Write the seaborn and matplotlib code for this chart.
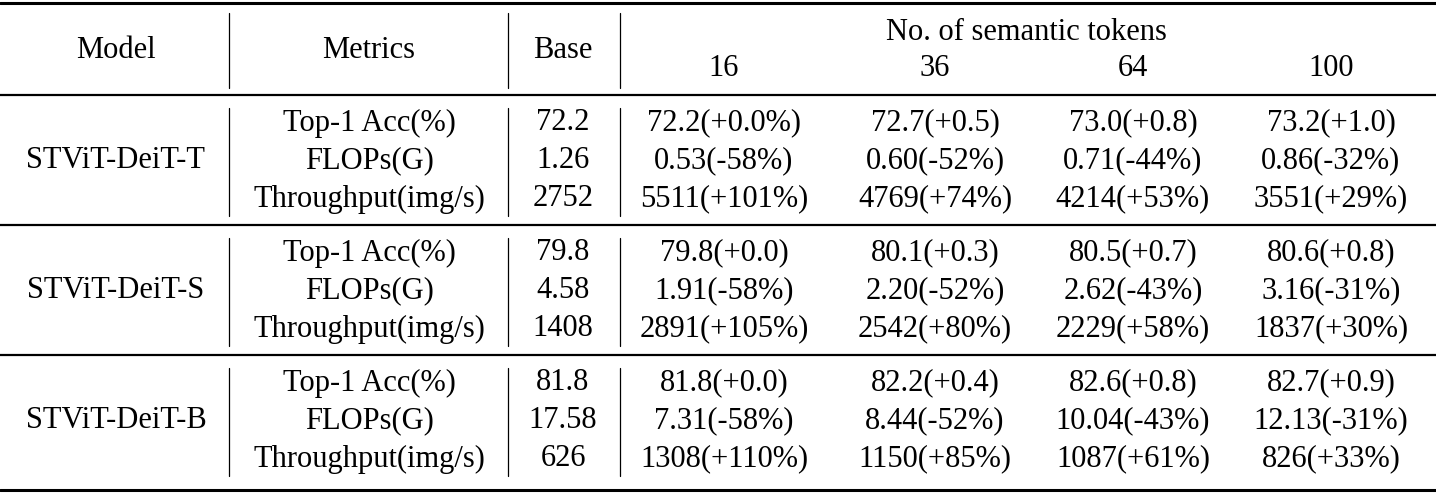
import matplotlib
matplotlib.use("Agg")
import matplotlib.pyplot as plt
import seaborn as sns

sns.set_style("white")
plt.rcParams['font.family'] = ['Liberation Serif', 'DejaVu Serif']
plt.rcParams['text.color'] = 'black'

models = ["STViT-DeiT-T", "STViT-DeiT-S", "STViT-DeiT-B"]
metrics = ["Top-1 Acc(%)", "FLOPs(G)", "Throughput(img/s)"]
token_counts = ["16", "36", "64", "100"]
base_values = [["72.2", "1.26", "2752"],
               ["79.8", "4.58", "1408"],
               ["81.8", "17.58", "626"]]
token_values = [
    [["72.2(+0.0%)", "72.7(+0.5)", "73.0(+0.8)", "73.2(+1.0)"],
     ["0.53(-58%)", "0.60(-52%)", "0.71(-44%)", "0.86(-32%)"],
     ["5511(+101%)", "4769(+74%)", "4214(+53%)", "3551(+29%)"]],
    [["79.8(+0.0)", "80.1(+0.3)", "80.5(+0.7)", "80.6(+0.8)"],
     ["1.91(-58%)", "2.20(-52%)", "2.62(-43%)", "3.16(-31%)"],
     ["2891(+105%)", "2542(+80%)", "2229(+58%)", "1837(+30%)"]],
    [["81.8(+0.0)", "82.2(+0.4)", "82.6(+0.8)", "82.7(+0.9)"],
     ["7.31(-58%)", "8.44(-52%)", "10.04(-43%)", "12.13(-31%)"],
     ["1308(+110%)", "1150(+85%)", "1087(+61%)", "826(+33%)"]],
]

W, H = 1436, 495
fig = plt.figure(figsize=(W / 100, H / 100), dpi=100)
ax = fig.add_axes([0, 0, 1, 1])
ax.set_xlim(0, W)
ax.set_ylim(H, 0)
ax.axis("off")

fs = 22
x_model, x_metric, x_base = 116, 369, 563
x_tokens = [724, 935, 1133, 1331]
vlines = [229, 508, 620]

# header
ax.text(x_model, 50, "Model", ha="center", va="center", fontsize=fs)
ax.text(x_metric, 50, "Metrics", ha="center", va="center", fontsize=fs)
ax.text(x_base, 50, "Base", ha="center", va="center", fontsize=fs)
ax.text(1026, 32, "No. of semantic tokens", ha="center", va="center", fontsize=fs)
for x, t in zip(x_tokens, token_counts):
    ax.text(x, 68, t, ha="center", va="center", fontsize=fs)
for x in vlines:
    ax.plot([x, x], [13, 88], color="black", lw=0.9)

ax.plot([0, W], [3, 3], color="black", lw=2.2)
ax.plot([0, W], [95, 95], color="black", lw=1.6)
ax.plot([0, W], [490, 490], color="black", lw=2.2)

group_top = [108, 238, 368]
for g, model in enumerate(models):
    y0 = group_top[g]
    rows = [y0 + 15 + 38 * i for i in range(3)]
    ax.text(x_model, rows[1], model, ha="center", va="center", fontsize=fs)
    for i, y in enumerate(rows):
        ax.text(x_metric, y, metrics[i], ha="center", va="center", fontsize=fs)
        ax.text(x_base, y, base_values[g][i], ha="center", va="center", fontsize=fs)
        for x, v in zip(x_tokens, token_values[g][i]):
            ax.text(x, y, v, ha="center", va="center", fontsize=fs)
    for x in vlines:
        ax.plot([x, x], [y0, y0 + 108], color="black", lw=0.9)
    if g < 2:
        ax.plot([0, W], [y0 + 117, y0 + 117], color="black", lw=1.6)

fig.savefig("out.png", dpi=100)
